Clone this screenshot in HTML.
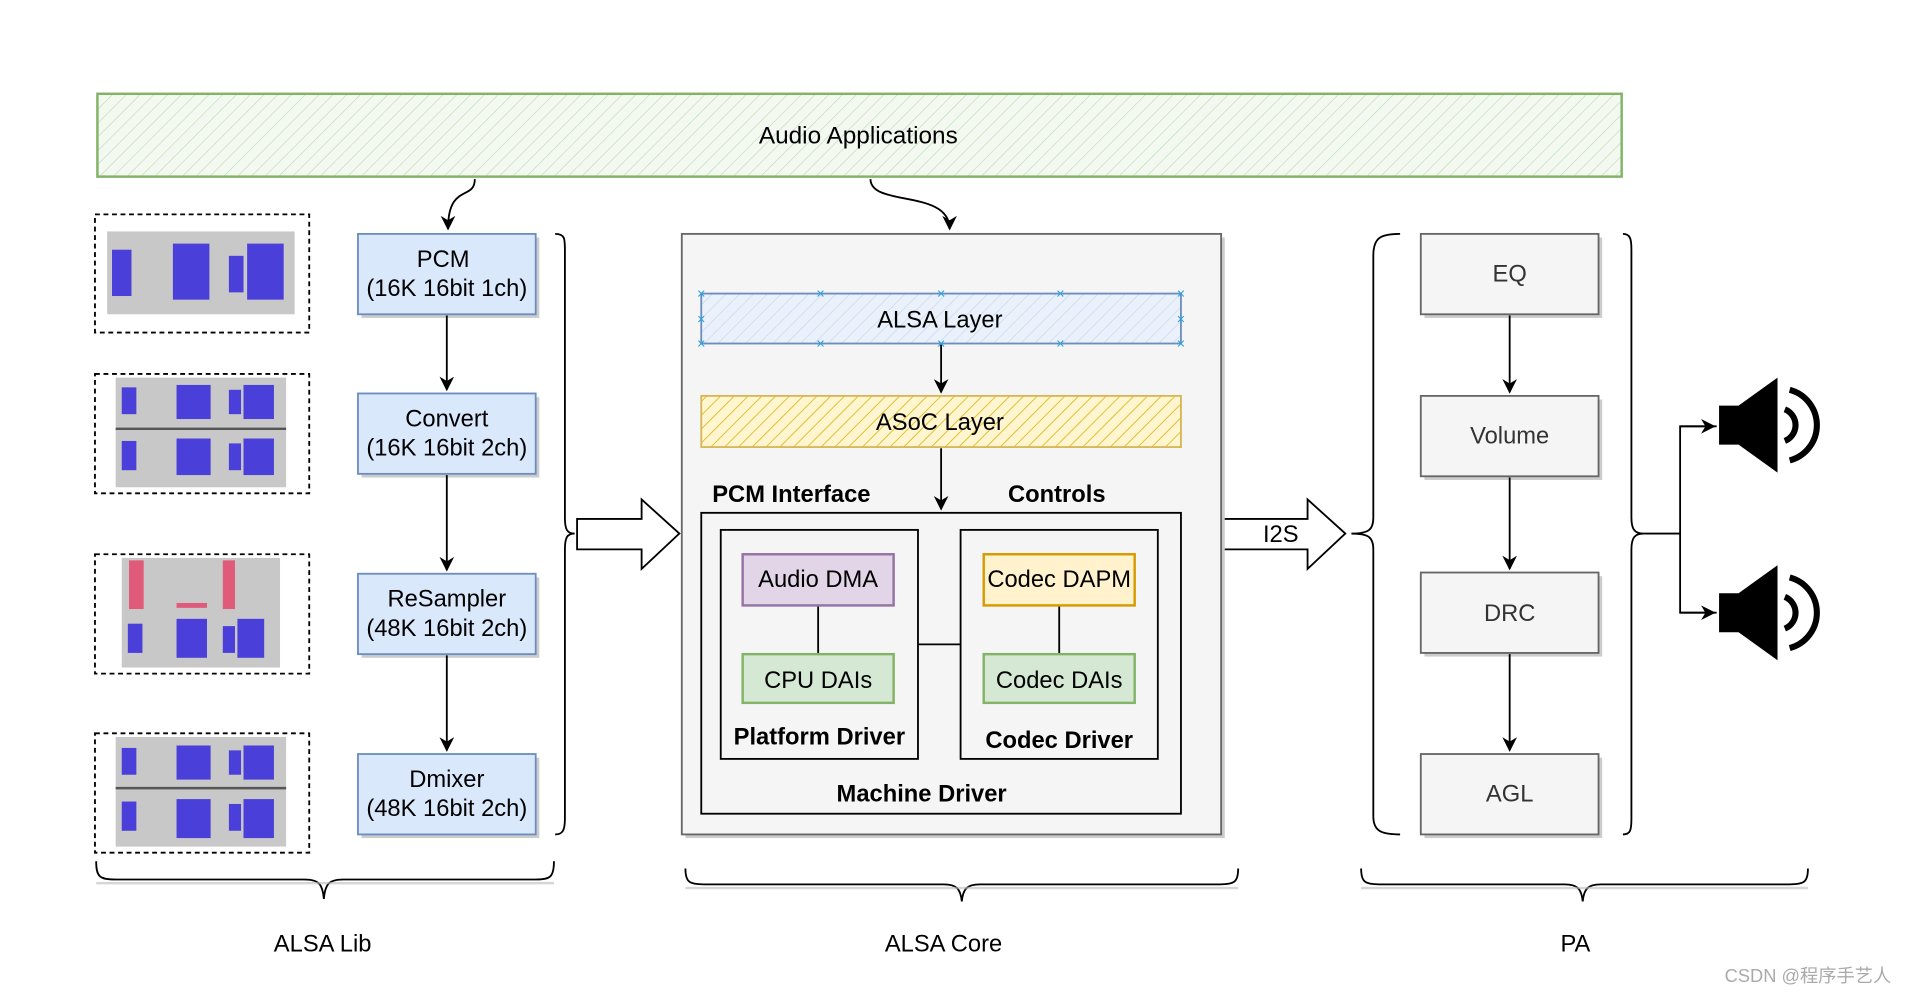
<!DOCTYPE html>
<html><head><meta charset="utf-8"><style>
html,body{margin:0;padding:0;background:#fff;}
svg{display:block;}
text{font-family:"Liberation Sans","Noto Sans CJK SC",sans-serif;}
</style></head><body>
<svg width="1909" height="994" viewBox="0 0 1568 816" preserveAspectRatio="none" xmlns="http://www.w3.org/2000/svg">
<defs>
<pattern id="hg" width="8" height="8" patternUnits="userSpaceOnUse" patternTransform="rotate(45)"><rect width="8" height="8" fill="#f3f9f1"/><line x1="0" y1="0" x2="0" y2="8" stroke="#b9dcb0" stroke-width="1"/></pattern>
<pattern id="hb" width="8" height="8" patternUnits="userSpaceOnUse" patternTransform="rotate(45)"><rect width="8" height="8" fill="#eaf1fb"/><line x1="0" y1="0" x2="0" y2="8" stroke="#c4d4ec" stroke-width="1"/></pattern>
<pattern id="hy" width="8" height="8" patternUnits="userSpaceOnUse" patternTransform="rotate(45)"><rect width="8" height="8" fill="#fff6cf"/><line x1="0" y1="0" x2="0" y2="8" stroke="#e0b92a" stroke-width="1.5"/></pattern>
<marker id="ar" viewBox="0 0 10 10" refX="9" refY="5" markerWidth="8" markerHeight="8" orient="auto"><path d="M0,0 L10,5 L0,10 L3,5z" fill="#000"/></marker>
</defs>
<rect x="80" y="77" width="1252" height="68" fill="url(#hg)" stroke="#82b366" stroke-width="2"/>
<text x="705" y="118" font-size="20" text-anchor="middle">Audio Applications</text>
<g fill="none" stroke="#000" stroke-width="1.5">
<path d="M390,147 C390,165 368,150 368,188" marker-end="url(#ar)"/>
<path d="M715,147 C715,170 780,155 780,188" marker-end="url(#ar)"/>
</g>
<g fill="none" stroke="#000" stroke-width="1.5" stroke-dasharray="4,3">
<rect x="78" y="176" width="176" height="97"/><rect x="78" y="307" width="176" height="98"/>
<rect x="78" y="455" width="176" height="98"/><rect x="78" y="602" width="176" height="98"/>
</g>
<g fill="#c8c8c8"><rect x="88" y="190" width="154" height="68"/><rect x="95" y="310" width="140" height="90"/><rect x="100" y="458" width="130" height="90"/><rect x="95" y="605" width="140" height="90"/></g>
<g fill="#4a3fd8">
<rect x="92" y="205" width="16" height="38"/><rect x="142" y="200" width="30" height="46"/><rect x="188" y="210" width="12" height="30"/><rect x="203" y="200" width="30" height="46"/>
<rect x="100" y="318" width="12" height="22"/><rect x="145" y="316" width="28" height="28"/><rect x="188" y="320" width="10" height="20"/><rect x="200" y="316" width="25" height="28"/>
<rect x="100" y="362" width="12" height="24"/><rect x="145" y="360" width="28" height="30"/><rect x="188" y="364" width="10" height="22"/><rect x="200" y="360" width="25" height="30"/>
<rect x="105" y="512" width="12" height="24"/><rect x="145" y="508" width="25" height="32"/><rect x="183" y="514" width="10" height="22"/><rect x="195" y="508" width="22" height="32"/>
<rect x="100" y="614" width="12" height="22"/><rect x="145" y="612" width="28" height="28"/><rect x="188" y="616" width="10" height="20"/><rect x="200" y="612" width="25" height="28"/>
<rect x="100" y="658" width="12" height="24"/><rect x="145" y="656" width="28" height="32"/><rect x="188" y="660" width="10" height="22"/><rect x="200" y="656" width="25" height="32"/>
</g>
<g fill="#e05a7a"><rect x="106" y="460" width="12" height="40"/><rect x="183" y="460" width="10" height="40"/><rect x="145" y="495" width="25" height="4"/></g>
<g stroke="#555" stroke-width="2"><line x1="95" y1="352" x2="235" y2="352"/><line x1="95" y1="647" x2="235" y2="647"/></g>
<g fill="#dae8fc" stroke="#6c8ebf" stroke-width="1.5">
<rect x="297" y="195" width="146" height="66" fill="#ccc" stroke="none"/><rect x="294" y="192" width="146" height="66"/>
<rect x="297" y="326" width="146" height="66" fill="#ccc" stroke="none"/><rect x="294" y="323" width="146" height="66"/>
<rect x="297" y="474" width="146" height="66" fill="#ccc" stroke="none"/><rect x="294" y="471" width="146" height="66"/>
<rect x="297" y="622" width="146" height="66" fill="#ccc" stroke="none"/><rect x="294" y="619" width="146" height="66"/>
</g>
<g font-size="19.5" text-anchor="middle">
<text x="364" y="219">PCM</text><text x="367" y="243">(16K 16bit 1ch)</text>
<text x="367" y="350">Convert</text><text x="367" y="374">(16K 16bit 2ch)</text>
<text x="367" y="498">ReSampler</text><text x="367" y="522">(48K 16bit 2ch)</text>
<text x="367" y="646">Dmixer</text><text x="367" y="670">(48K 16bit 2ch)</text>
</g>
<g fill="none" stroke="#000" stroke-width="1.5">
<line x1="367" y1="259" x2="367" y2="320" marker-end="url(#ar)"/>
<line x1="367" y1="390" x2="367" y2="468" marker-end="url(#ar)"/>
<line x1="367" y1="538" x2="367" y2="616" marker-end="url(#ar)"/>
<path d="M456,192 C464,192 464,196 464,205 L464,425 C464,435 466,438 472,438 C466,438 464,441 464,451 L464,672 C464,682 462,685 456,685"/>
<path d="M474,426 L527,426 L527,410 L558,438 L527,467 L527,451 L474,451 Z" fill="#fff"/>
<path d="M1004,426 L1074,426 L1074,410 L1105,438 L1074,467 L1074,451 L1004,451 Z" fill="#fff"/>
</g>
<text x="1052" y="445" font-size="19.5" text-anchor="middle">I2S</text>
<rect x="563" y="195" width="443" height="493" fill="#ccc"/>
<rect x="560" y="192" width="443" height="493" fill="#f5f5f5" stroke="#666" stroke-width="1.5"/>
<rect x="576" y="241" width="394" height="41" fill="url(#hb)" stroke="#6c8ebf" stroke-width="1.5"/>
<g fill="#29a3e0" font-size="12" text-anchor="middle">
<text x="576" y="245">×</text><text x="674" y="245">×</text><text x="773" y="245">×</text><text x="871" y="245">×</text><text x="970" y="245">×</text>
<text x="576" y="286">×</text><text x="674" y="286">×</text><text x="773" y="286">×</text><text x="871" y="286">×</text><text x="970" y="286">×</text>
<text x="576" y="266">×</text><text x="970" y="266">×</text>
</g>
<text x="772" y="269" font-size="19.5" text-anchor="middle">ALSA Layer</text>
<rect x="576" y="325" width="394" height="42" fill="url(#hy)" stroke="#d6b656" stroke-width="1.5"/>
<text x="772" y="353" font-size="19.5" text-anchor="middle">ASoC Layer</text>
<g stroke="#000" stroke-width="1.5" fill="none">
<line x1="773" y1="283" x2="773" y2="322" marker-end="url(#ar)"/>
<line x1="773" y1="368" x2="773" y2="418" marker-end="url(#ar)"/>
<rect x="576" y="421" width="394" height="247"/>
<rect x="592" y="435" width="162" height="188"/>
<rect x="789" y="435" width="162" height="188"/>
<line x1="754" y1="529" x2="789" y2="529"/>
<line x1="672" y1="497" x2="672" y2="537"/>
<line x1="870" y1="497" x2="870" y2="537"/>
</g>
<text x="650" y="412" font-size="19.5" font-weight="bold" text-anchor="middle">PCM Interface</text>
<text x="868" y="412" font-size="19.5" font-weight="bold" text-anchor="middle">Controls</text>
<rect x="610" y="455" width="124" height="42" fill="#e1d5e7" stroke="#9673a6" stroke-width="2"/>
<rect x="610" y="537" width="124" height="40" fill="#d5e8d4" stroke="#82b366" stroke-width="2"/>
<rect x="808" y="455" width="124" height="42" fill="#fff2cc" stroke="#d79b00" stroke-width="2"/>
<rect x="808" y="537" width="124" height="40" fill="#d5e8d4" stroke="#82b366" stroke-width="2"/>
<g font-size="19.5" text-anchor="middle">
<text x="672" y="482">Audio DMA</text><text x="672" y="565">CPU DAIs</text>
<text x="870" y="482">Codec DAPM</text><text x="870" y="565">Codec DAIs</text>
</g>
<g font-size="19.5" font-weight="bold" text-anchor="middle">
<text x="673" y="611">Platform Driver</text><text x="870" y="614">Codec Driver</text><text x="757" y="658">Machine Driver</text>
</g>
<g fill="none" stroke="#000" stroke-width="1.5">
<path d="M1150,192 C1134,192 1128,195 1128,210 L1128,425 C1128,435 1124,438 1110,438 C1124,438 1128,441 1128,451 L1128,670 C1128,682 1134,685 1150,685"/>
<path d="M1333,192 C1339,192 1340,196 1340,205 L1340,425 C1340,435 1343,438 1350,438 C1343,438 1340,441 1340,451 L1340,672 C1340,682 1339,685 1333,685"/>
<line x1="1350" y1="438" x2="1380" y2="438"/>
<polyline points="1410,350 1380,350 1380,503 1410,503"/>
</g>
<g fill="#ccc"><rect x="1170" y="195" width="146" height="66"/><rect x="1170" y="328" width="146" height="66"/><rect x="1170" y="473" width="146" height="66"/><rect x="1170" y="622" width="146" height="66"/></g>
<g fill="#f5f5f5" stroke="#666" stroke-width="1.5"><rect x="1167" y="192" width="146" height="66"/><rect x="1167" y="325" width="146" height="66"/><rect x="1167" y="470" width="146" height="66"/><rect x="1167" y="619" width="146" height="66"/></g>
<g font-size="19.5" text-anchor="middle" fill="#333">
<text x="1240" y="231">EQ</text><text x="1240" y="364">Volume</text><text x="1240" y="510">DRC</text><text x="1240" y="658">AGL</text>
</g>
<g stroke="#000" stroke-width="1.5">
<line x1="1240" y1="259" x2="1240" y2="322" marker-end="url(#ar)"/>
<line x1="1240" y1="392" x2="1240" y2="467" marker-end="url(#ar)"/>
<line x1="1240" y1="537" x2="1240" y2="616" marker-end="url(#ar)"/>
<line x1="1380" y1="350" x2="1408" y2="350" marker-end="url(#ar)"/>
<line x1="1380" y1="503" x2="1408" y2="503" marker-end="url(#ar)"/>
</g>
<g>
<path d="M1412,333 L1428,333 L1460,310 L1460,388 L1428,365 L1412,365 Z" fill="#000"/>
<path d="M1466,336 A14,14 0 0 1 1466,362" fill="none" stroke="#000" stroke-width="5"/>
<path d="M1470,320 A30,30 0 0 1 1470,378" fill="none" stroke="#000" stroke-width="5"/>
<path d="M1412,487 L1428,487 L1460,464 L1460,542 L1428,519 L1412,519 Z" fill="#000"/>
<path d="M1466,490 A14,14 0 0 1 1466,516" fill="none" stroke="#000" stroke-width="5"/>
<path d="M1470,474 A30,30 0 0 1 1470,532" fill="none" stroke="#000" stroke-width="5"/>
</g>
<g fill="none" stroke="#000" stroke-width="1.5">
<path d="M79,707 C79,720 82,722 95,722 L250,722 C262,722 265,726 266,738 C267,726 270,722 282,722 L440,722 C452,722 455,720 455,707"/>
<path d="M563,713 C563,724 566,726 578,726 L775,726 C786,726 789,730 790,740 C791,730 794,726 805,726 L1002,726 C1014,726 1017,724 1017,713"/>
<path d="M1118,713 C1118,724 1121,726 1133,726 L1285,726 C1296,726 1299,730 1300,740 C1301,730 1304,726 1315,726 L1470,726 C1482,726 1485,724 1485,713"/>
</g>
<g fill="#bbb" opacity="0.6"><rect x="79" y="724" width="376" height="2"/><rect x="563" y="728" width="454" height="2"/><rect x="1118" y="728" width="367" height="2"/></g>
<g font-size="19.5" text-anchor="middle">
<text x="265" y="781">ALSA Lib</text><text x="775" y="781">ALSA  Core</text><text x="1294" y="781">PA</text>
</g>
<text x="1485" y="806" font-size="15" fill="#aaa" text-anchor="middle">CSDN @程序手艺人</text>
</svg>
</body></html>
